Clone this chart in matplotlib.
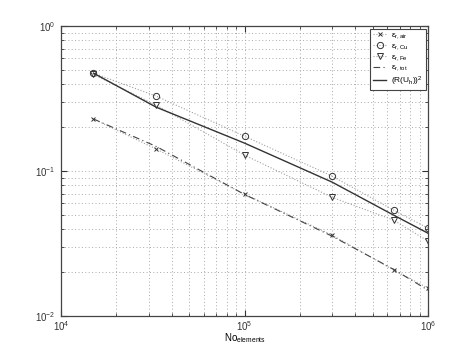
import numpy as np
import matplotlib
matplotlib.use('Agg')
import matplotlib.pyplot as plt

# mesh sizes (number of elements)
n_elements = [1.5e4, 3.3e4, 1.0e5, 3.0e5, 6.5e5, 1.0e6]

# relative errors
eps_air = [0.229, 0.142, 0.0694, 0.0362, 0.0208, 0.0156]
eps_cu = [0.474, 0.329, 0.174, 0.0924, 0.0538, 0.0404]
eps_fe = [0.465, 0.285, 0.129, 0.066, 0.0459, 0.0329]
eps_tot = [0.229, 0.148, 0.069, 0.0356, 0.021, 0.0151]
r_uh_sq = [0.474, 0.276, 0.156, 0.084, 0.0497, 0.0373]

plt.rcParams['font.family'] = ['Liberation Sans', 'DejaVu Sans']
plt.rcParams['mathtext.fontset'] = 'custom'
plt.rcParams['mathtext.rm'] = 'Liberation Sans'
plt.rcParams['mathtext.it'] = 'Liberation Sans'

fig = plt.figure(figsize=(4.74, 3.44), dpi=100)
ax = fig.add_axes([0.129, 0.081, 0.774, 0.843])

ax.loglog(n_elements, eps_air, linestyle=':', color='#a0a0a0', lw=0.8,
          marker='x', ms=3.5, mec='#333333', mew=0.7, label=r'$\epsilon_{r,air}$')
ax.loglog(n_elements, eps_cu, linestyle=':', color='#a0a0a0', lw=0.8,
          marker='o', ms=4.5, mfc='none', mec='#333333', mew=0.7, label=r'$\epsilon_{r,Cu}$')
ax.loglog(n_elements, eps_fe, linestyle=':', color='#a0a0a0', lw=0.8,
          marker='v', ms=5, mfc='none', mec='#333333', mew=0.7, label=r'$\epsilon_{r,Fe}$')
ax.loglog(n_elements, eps_tot, linestyle=(0, (6, 3, 1, 3)), color='#444444', lw=0.8,
          label=r'$\epsilon_{r,tot}$')
ax.loglog(n_elements, r_uh_sq, linestyle='-', color='#333333', lw=1.0,
          label=r'$(R(U_h))^2$')

ax.set_xlim(1e4, 1e6)
ax.set_ylim(1e-2, 1e0)
ax.grid(True, which='both', linestyle=(0, (1, 2.5)), color='#a8a8a8', lw=0.7)
ax.tick_params(which='both', direction='in', top=True, right=True,
               labelsize=7, colors='#333333')
ax.tick_params(axis='x', pad=2)
ax.tick_params(axis='y', pad=4)
ax.tick_params(which='major', length=4)
ax.tick_params(which='minor', length=2)
for sp in ax.spines.values():
    sp.set_color('#444444')
    sp.set_linewidth(0.9)

ax.set_xlabel(r'No$_{elements}$', fontsize=7, va='top')
ax.xaxis.set_label_coords(0.5, -0.053)

leg = ax.legend(loc='upper right', fontsize=6, handlelength=1.6,
                fancybox=False, framealpha=1, edgecolor='#444444',
                borderaxespad=0.3, labelspacing=0.1, borderpad=0.3,
                handletextpad=0.6)
leg.get_frame().set_linewidth(0.8)

fig.savefig('out.png', dpi=100)
